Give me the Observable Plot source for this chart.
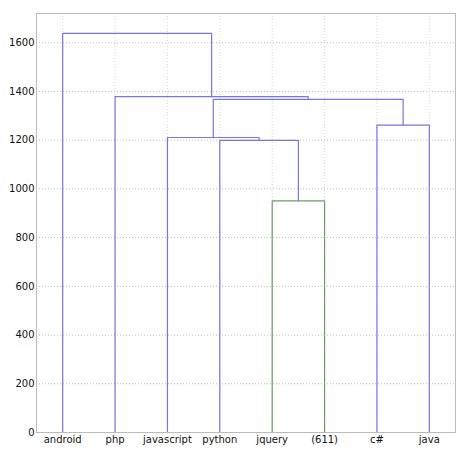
<!DOCTYPE html>
<html>
<head>
<meta charset="utf-8">
<script src="https://cdn.jsdelivr.net/npm/d3@7"></script>
<script src="https://cdn.jsdelivr.net/npm/@observablehq/plot@0.6"></script>
<style>
  html, body { margin: 0; padding: 0; background: #fff; }
  #chart svg { display: block; font-family: "DejaVu Sans", sans-serif; }
</style>
</head>
<body>
<div id="chart"></div>
<script>
// Leaves in dendrogram order
const leaves = ["android", "php", "javascript", "python", "jquery", "(611)", "c#", "java"];
// Merges: [id, left child, right child, height, color]
const mergeIds    = ["n0", "n1", "n2", "n3", "n4", "n5", "n6"];
const mergeLeft   = ["jquery", "python", "javascript", "c#", "n2", "php", "android"];
const mergeRight  = ["(611)", "n0", "n1", "java", "n3", "n4", "n5"];
const mergeHeight = [951, 1199, 1211, 1262, 1367, 1379, 1638];
const mergeColor  = ["green", "blue", "blue", "blue", "blue", "blue", "blue"];
const yTicks = [0, 200, 400, 600, 800, 1000, 1200, 1400, 1600];

const colors = { blue: "#7676e6", green: "#6c9c6c" };

// leaf positions like scipy: 5, 15, 25, ...
const pos = new Map();
const hgt = new Map();
leaves.forEach((name, i) => { pos.set(name, 5 + 10 * i); hgt.set(name, 0); });
const rows = [];
mergeIds.forEach((id, i) => {
  const l = mergeLeft[i], r = mergeRight[i], h = mergeHeight[i];
  const xl = pos.get(l), xr = pos.get(r);
  rows.push({ id, x: xl, y: hgt.get(l), c: mergeColor[i] });
  rows.push({ id, x: xl, y: h, c: mergeColor[i] });
  rows.push({ id, x: xr, y: h, c: mergeColor[i] });
  rows.push({ id, x: xr, y: hgt.get(r), c: mergeColor[i] });
  pos.set(id, (xl + xr) / 2);
  hgt.set(id, h);
});
const leafX = leaves.map((_, i) => 5 + 10 * i);
const yMax = d3.max(mergeHeight) * 1.05;
const leafFmt = (d) => leaves[Math.round((d - 5) / 10)];

const chart = Plot.plot({
  width: 474,
  height: 454,
  marginLeft: 36,
  marginRight: 19,
  marginTop: 13,
  marginBottom: 22,
  style: { fontSize: "10px", fontFamily: "DejaVu Sans, sans-serif", color: "#111", background: "#fff" },
  x: { domain: [0, 10 * leaves.length], label: null },
  y: { domain: [0, yMax], label: null },
  marks: [
    Plot.gridY(yTicks, { stroke: "#aaa", strokeOpacity: 1, strokeDasharray: "1,2", strokeWidth: 0.8 }),
    Plot.gridX(leafX, { stroke: "#ccc", strokeOpacity: 1, strokeDasharray: "1,2", strokeWidth: 0.8 }),
    ...Object.keys(colors).map((c) =>
      Plot.line(rows.filter((d) => d.c === c), { x: "x", y: "y", z: "id", stroke: colors[c], strokeWidth: 1.2 })
    ),
    Plot.frame({ stroke: "#bbb", strokeWidth: 1 }),
    Plot.axisX(leafX, { tickFormat: leafFmt, tickSize: 0, tickPadding: 3, fill: "#111" }),
    Plot.axisY(yTicks, { tickFormat: d3.format("d"), tickSize: 0, tickPadding: 2, fill: "#111" })
  ]
});
document.getElementById("chart").appendChild(chart);
</script>
</body>
</html>
